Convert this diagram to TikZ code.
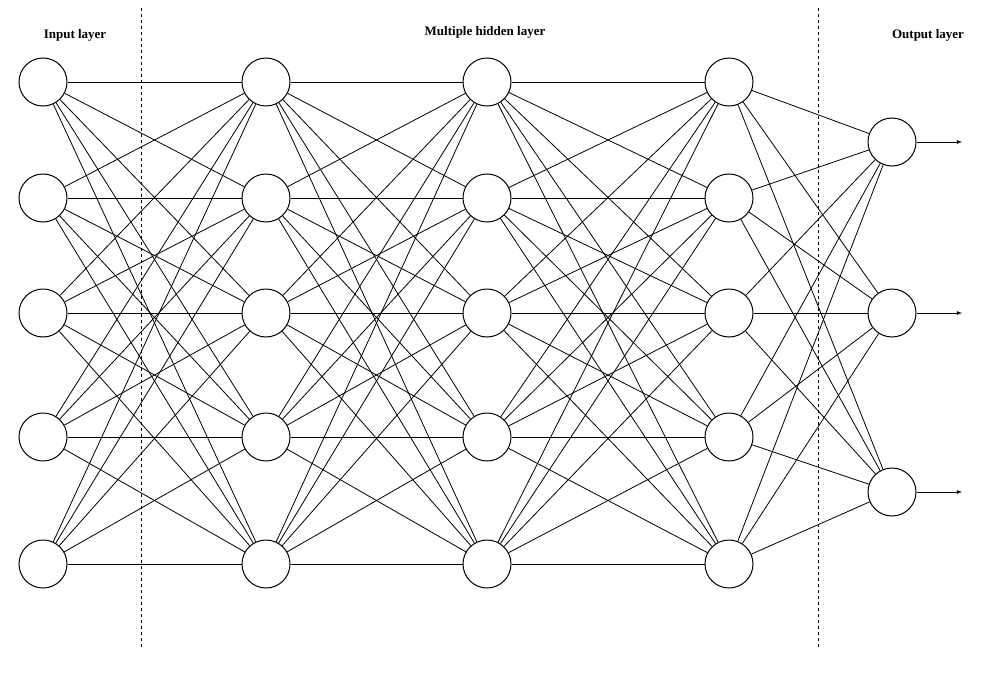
\documentclass[tikz,border=0pt]{standalone}
\usepackage{fontspec}
\setmainfont{Liberation Serif}
\begin{document}
\begin{tikzpicture}[x=1pt,y=-1pt,
  neuron/.style={circle,draw,line width=1pt,minimum size=48pt,inner sep=0pt,fill=white},
  conn/.style={line width=0.8pt},
  lbl/.style={font=\fontsize{13}{15}\selectfont\bfseries}]
\useasboundingbox (0,0) rectangle (982,693);
\draw[dashed,line width=0.8pt] (141,8) -- (141,648);
\draw[dashed,line width=0.8pt] (818,8) -- (818,648);
\foreach \c/\x in {1/43,2/266,3/487,4/729}{
  \foreach \r/\y in {1/82,2/198,3/313,4/437,5/564}{
    \node[neuron] (n\c\r) at (\x,\y) {};
  }
}
\foreach \r/\y in {1/142,2/313,3/492}{
  \node[neuron] (o\r) at (892,\y) {};
  \coordinate (t\r) at (962,\y);
}
\foreach \a/\b in {1/2,2/3,3/4}{
  \foreach \i in {1,...,5}{
    \foreach \j in {1,...,5}{
      \draw[conn] (n\a\i) -- (n\b\j);
    }
  }
}
\foreach \i in {1,...,5}{
  \foreach \j in {1,2,3}{
    \draw[conn] (n4\i) -- (o\j);
  }
}
\foreach \j in {1,2,3}{
  \draw[conn,-latex] (o\j) -- (t\j);
}
\node[lbl] (l1) at (75,35) {Input layer};
\node[lbl] (l2) at (485,32) {Multiple hidden layer};
\node[lbl] (l3) at (928,35) {Output layer};
\end{tikzpicture}
\end{document}
